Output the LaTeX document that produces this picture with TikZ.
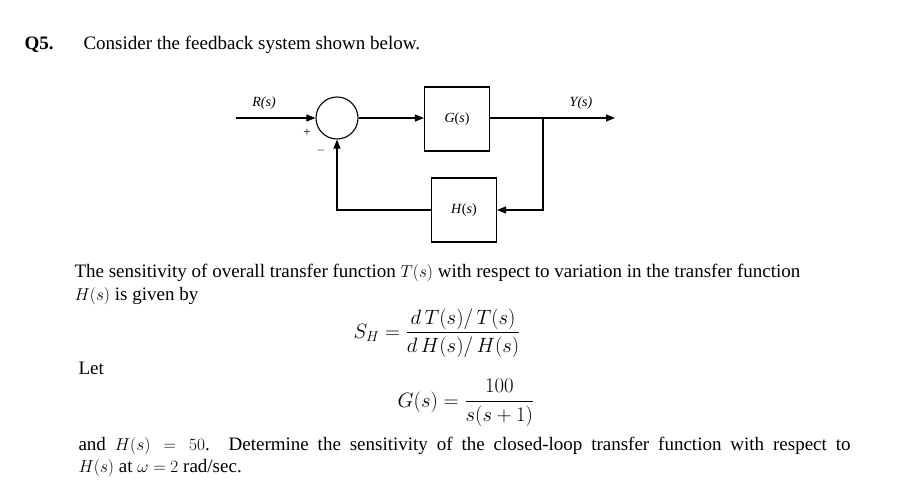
\documentclass[tikz,border=0pt]{standalone}
\usepackage{amsmath}
\usepackage{fontspec}
\setmainfont{Liberation Serif}
\usetikzlibrary{arrows.meta}
\tikzset{blk/.style={draw,minimum width=65pt,minimum height=64pt,inner sep=0pt},
lab/.style={font=\fontsize{14}{16}\selectfont\itshape},
txt/.style={anchor=west,inner sep=0pt,font=\fontsize{19}{22}\selectfont},
sig/.style={-{Triangle[length=9pt,width=7pt]}}}
\begin{document}
\begin{tikzpicture}[x=1pt,y=-1pt,line width=1.1pt]
\useasboundingbox (0,0) rectangle (902,502);
\node[txt,font=\fontsize{19}{22}\selectfont\bfseries] (q) at (24,45) {Q5.};
\node[txt] (intro) at (83,45) {Consider the feedback system shown below.};
\node[draw,circle,minimum size=42pt,inner sep=0pt] (sum) at (337,118) {};
\coordinate (in) at (236,118);
\node[blk] (G) at (457,119) {\fontsize{14}{16}\selectfont\textit{G}(\textit{s})};
\node[blk] (H) at (464,210) {\fontsize{14}{16}\selectfont\textit{H}(\textit{s})};
\coordinate (out) at (615,118);
\coordinate (br) at (543,118);
\draw[sig] (in) -- (sum.west);
\draw[sig] (sum.east) -- (G.west |- sum.east);
\draw[sig] (G.east |- br) -- (out);
\draw[sig] (br) |- (H.east);
\draw[sig] (H.west) -| (sum.south);
\node[lab] (R) at (264,103) {R(s)};
\node[lab] (Y) at (581,103) {Y(s)};
\node[font=\fontsize{13}{14}\selectfont] (p) at (307,133) {+};
\node[font=\fontsize{13}{14}\selectfont] (m) at (321,151) {$-$};
\node[txt] (t1) at (74,273) {The sensitivity of overall transfer function $T(s)$ with respect to variation in the transfer function};
\node[txt] (t2) at (74,296) {$H(s)$ is given by};
\node[inner sep=0pt,font=\fontsize{20}{24}\selectfont] (eq1) at (437,333) {$S_H=\dfrac{d\,T(s)/\,T(s)}{d\,H(s)/\,H(s)}$};
\node[txt] (let) at (78,368) {Let};
\node[inner sep=0pt,font=\fontsize{21}{25}\selectfont] (eq2) at (466,403) {$G(s)=\dfrac{100}{s(s+1)}$};
\node[txt,text width=772pt,align=justify,anchor=north west] (t3) at (78,437) {and $H(s)=50$. Determine the sensitivity of the closed-loop transfer function with respect to\linebreak $H(s)$ at $\omega=2$ rad/sec.};
\end{tikzpicture}
\end{document}
